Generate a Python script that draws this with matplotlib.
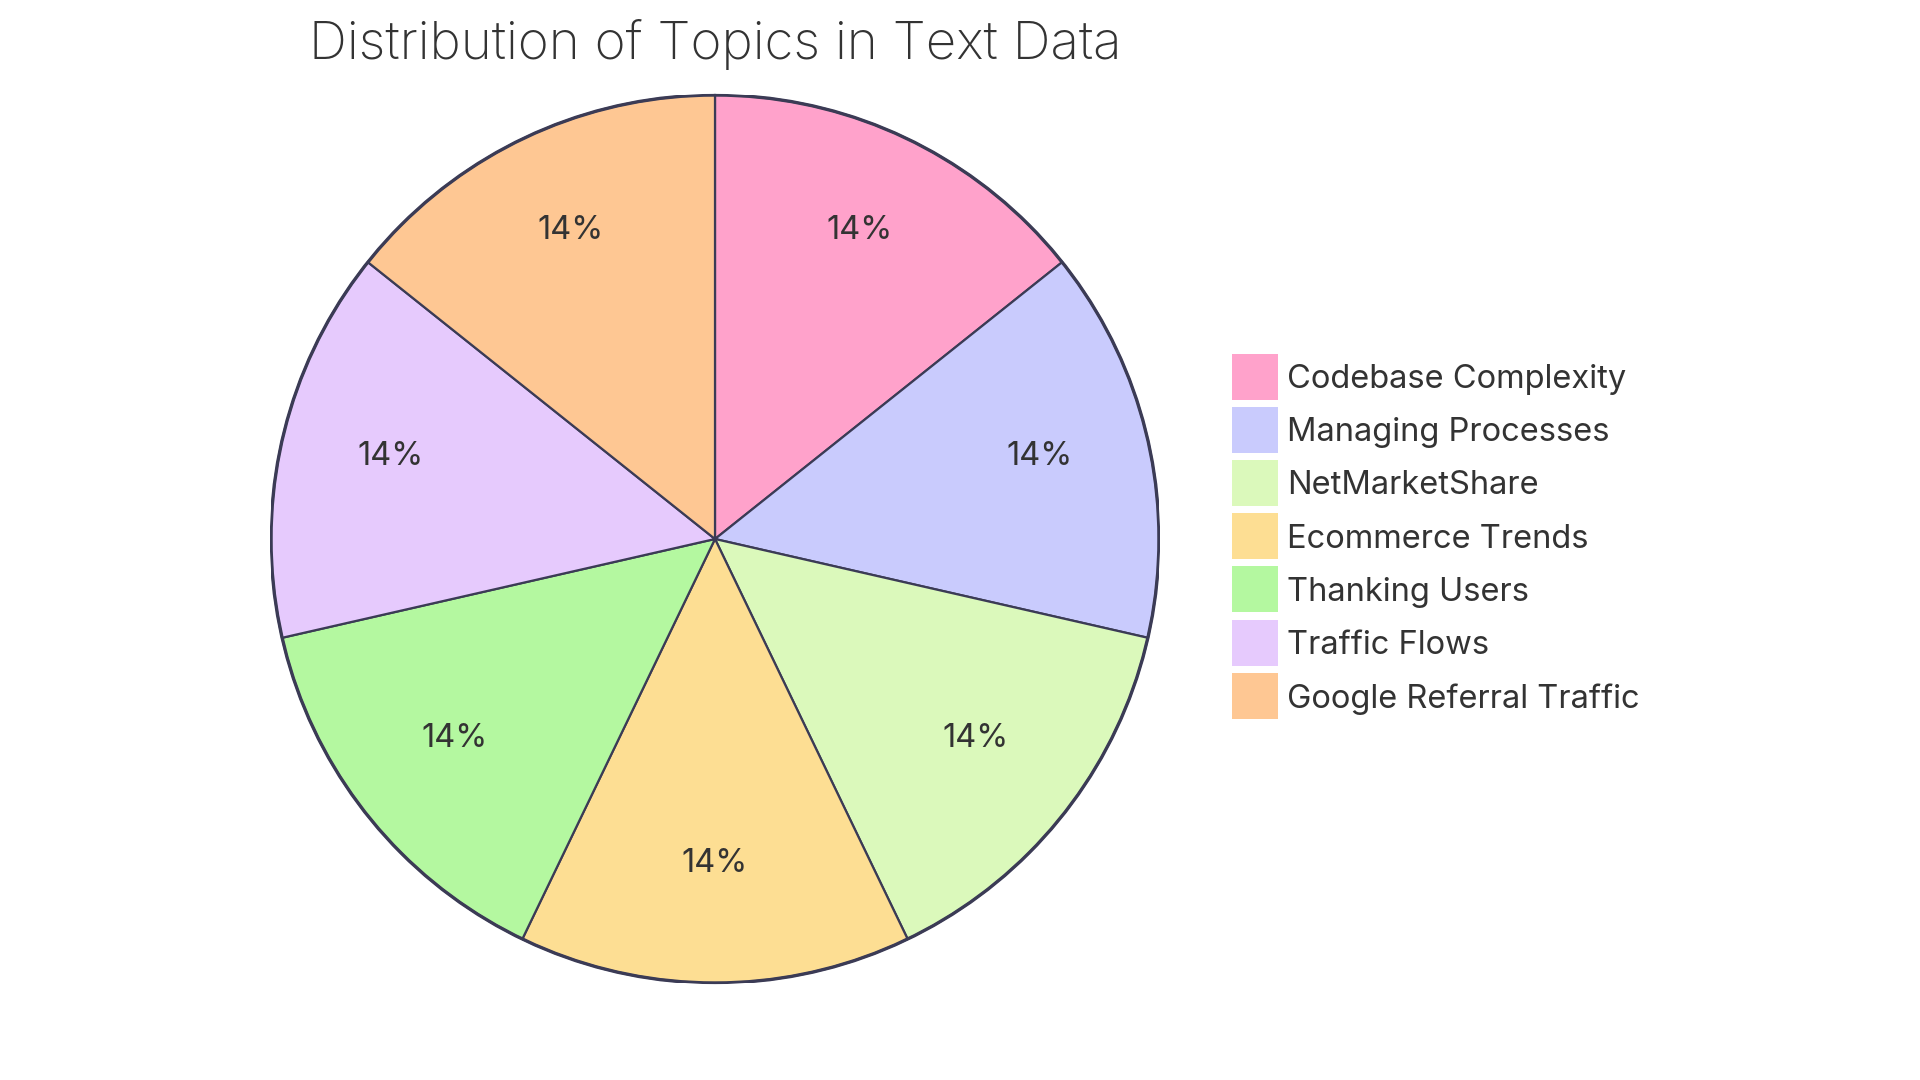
import matplotlib
matplotlib.use("Agg")
import matplotlib.pyplot as plt
from matplotlib.lines import Line2D
from matplotlib.patches import Circle

plt.rcParams['font.family'] = ['Inter', 'DejaVu Sans']

# data
topics = ["Codebase Complexity", "Managing Processes", "NetMarketShare",
          "Ecommerce Trends", "Thanking Users", "Traffic Flows",
          "Google Referral Traffic"]
shares = [1, 1, 1, 1, 1, 1, 1]
colors = ["#FFA2CB", "#C9CBFD", "#DBF9BB", "#FDDE93", "#B4F8A0", "#E6CAFD", "#FEC793"]

title = "Distribution of Topics in Text Data"
text_col = "#333333"
edge_col = "#3B3B55"

W, H = 1920, 1080
fig = plt.figure(figsize=(W/100, H/100), dpi=100)

cx, cy, r = 715, 539, 444
ax = fig.add_axes([(cx-r)/W, 1-(cy+r)/H, 2*r/W, 2*r/H])

wedges, texts, autotexts = ax.pie(
    shares, colors=colors, startangle=90, counterclock=False,
    autopct=lambda p: "%.0f%%" % p, pctdistance=0.75,
    wedgeprops=dict(edgecolor=edge_col, linewidth=1.6),
    textprops=dict(fontsize=23.5, color=text_col))
for t in autotexts:
    t.set_va('baseline')
ax.add_patch(Circle((0, 0), 1, fill=False, edgecolor=edge_col, linewidth=2.4, zorder=5))
ax.set_xlim(-1, 1)
ax.set_ylim(-1, 1)
ax.set_aspect('equal')
ax.axis('off')

fig.text(cx/W, 1-45/H, title, ha='center', va='center', fontsize=38.1,
         fontweight='light', color=text_col)

handles = [Line2D([], [], marker='s', linestyle='none', markersize=32.5,
                  markerfacecolor=c, markeredgewidth=0) for c in colors]
leg = fig.legend(handles, topics, loc='upper left',
                 bbox_to_anchor=(1232/W, 1-364/H), frameon=False,
                 fontsize=23.5, labelcolor=text_col, borderpad=0,
                 borderaxespad=0, handlelength=1.39, handletextpad=0.3,
                 labelspacing=0.68)

fig.savefig("out.png", dpi=100, facecolor='white')
